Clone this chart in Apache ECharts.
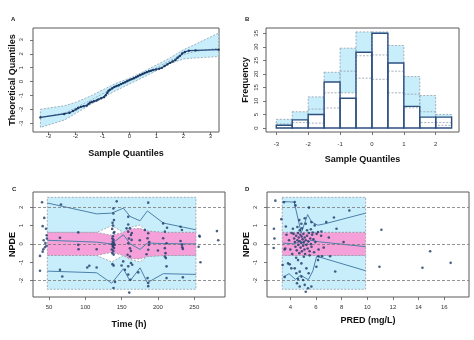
<!DOCTYPE html>
<html>
<head>
<meta charset="utf-8">
<script src="https://cdn.jsdelivr.net/npm/echarts@6/dist/echarts.min.js"></script>
<style>
html,body{margin:0;padding:0;background:#fff;}
#chart{width:474px;height:340px;}
</style>
</head>
<body>
<div id="chart"></div>
<script>
// ---------- Panel A: QQ plot of npde ----------
const qqSample = [-3.30,-2.42,-2.22,-2.09,-1.98,-1.90,-1.80,-1.70,-1.59,-1.52,-1.47,-1.40,-1.32,-1.22,-1.15,-1.05,-0.95,-0.88,-0.82,-0.78,-0.72,-0.64,-0.56,-0.48,-0.40,-0.32,-0.24,-0.16,-0.08,0.00,0.08,0.16,0.24,0.32,0.40,0.48,0.56,0.64,0.72,0.80,0.88,0.98,1.10,1.20,1.30,1.40,1.50,1.60,1.70,1.78,1.86,1.95,2.05,2.20,2.45,3.30];
const qqTheo   = [-2.58,-2.33,-2.24,-2.12,-2.00,-1.90,-1.82,-1.77,-1.73,-1.62,-1.52,-1.47,-1.42,-1.36,-1.28,-1.20,-1.12,-0.98,-0.80,-0.66,-0.58,-0.48,-0.38,-0.32,-0.26,-0.18,-0.11,-0.04,0.04,0.12,0.18,0.24,0.32,0.40,0.48,0.55,0.62,0.68,0.74,0.79,0.84,0.88,0.93,0.99,1.12,1.24,1.35,1.45,1.55,1.72,1.84,2.02,2.13,2.23,2.25,2.30];
const qqBandX   = [-3.3,-2.4,-2.0,-1.4,-1.0,-0.5,0,0.5,1.0,1.5,2.0,2.4,3.3];
const qqBandUp  = [-2.00,-1.73,-1.50,-1.00,-0.60,-0.12,0.24,0.70,1.20,1.70,2.30,2.65,3.50];
const qqBandMed = [-2.60,-2.25,-1.90,-1.30,-0.88,-0.40,0.03,0.50,1.00,1.50,1.95,2.15,2.42];
const qqBandLow = [-3.30,-2.76,-2.30,-1.60,-1.15,-0.65,-0.17,0.30,0.79,1.30,1.63,1.70,1.80];
const qqXTicks = [-3,-2,-1,0,1,2,3];
const qqYTicks = [-3,-2,-1,0,1,2,3];

// ---------- Panel B: histogram of npde ----------
const histLeft  = [-3,-2.5,-2,-1.5,-1,-0.5,0,0.5,1,1.5,2];
const histWidth = 0.5;
const histObs   = [1,3,5,17,11,28,35,24,8,4,4];
const histPiLow = [0,0,1.8,7.4,13,18.4,18,13,7.5,2,1];
const histPiMed = [1.5,2,7,13,21,26.7,27,21,12.5,6,2];
const histPiUp  = [3.2,6,11.5,20.6,29.5,35.5,35.5,30.5,19,12,5];
const histXTicks = [-3,-2,-1,0,1,2];
const histYTicks = [0,5,10,15,20,25,30,35];

// ---------- Panel C: npde vs time ----------
const timeBandX      = [47.7,115.6,136.3,152.4,161.5,175.3,185.4,207.4,252.3];
const timeBandTop    = [2.54,2.54,2.54,2.54,2.54,2.54,2.54,2.54,2.54];
const timeUpperInner = [0.63,0.63,1.00,0.63,0.90,1.03,0.70,0.63,0.63];
const timePinkUp     = [0.63,0.63,0.48,0.63,0.82,0.85,0.70,0.63,0.63];
const timePinkLow    = [-0.63,-0.63,-0.45,-0.63,-0.80,-0.82,-0.68,-0.63,-0.63];
const timeLowerInner = [-0.63,-0.63,-0.98,-0.63,-0.85,-0.98,-0.68,-0.63,-0.63];
const timeBandBottom = [-2.47,-2.47,-2.47,-2.47,-2.47,-2.47,-2.47,-2.47,-2.47];
const timeObsUp  = [2.23,1.64,1.68,1.95,1.50,1.26,1.80,1.14,0.77];
const timeObsMed = [0.20,0.10,0.00,0.50,0.02,-0.30,0.05,0.02,0.00];
const timeObsLow = [-1.48,-1.57,-2.14,-1.35,-2.02,-1.30,-2.11,-1.62,-1.66];
const timePts = [40.4,43.5,41.3,45.9,46.8,42.7,47.1,42.2,44.5,41.3,37.6,37.6,46.5,45.0,66.5,65.1,68.3,65.1,90.3,90.3,90.7,102.7,105.5,115.6,115.6,
  137.5,138.2,137.0,139.0,138.0,137.2,138.8,137.6,139.2,136.8,138.4,137.8,139.5,136.5,138.6,137.2,139.0,138.6,138.6,139.4,137.4,139.0,140.9,138.8,143.2,140.0,140.5,
  149.9,152.2,154.6,156.8,159.1,159.1,161.4,159.1,162.8,163.7,159.1,161.4,162.8,158.2,161.4,162.8,164.6,159.1,159.1,160.5,162.0,164.0,160.0,172.9,175.0,
  186.6,182.0,186.6,185.7,187.5,186.6,184.3,186.6,185.7,186.6,188.0,200.0,207.2,209.5,207.2,211.8,209.5,210.4,209.5,210.9,211.8,211.8,212.5,
  231.1,233.0,231.1,233.0,233.4,234.3,234.3,256.9,257.5,256.0,258.5,281.2,283.0];
const timeNpde = [2.27,1.42,0.97,0.83,0.47,0.20,0.30,-0.29,-0.18,-0.42,-0.65,-1.46,-0.10,0.05,2.15,-1.41,-1.77,0.34,0.63,-0.05,-0.29,-1.28,-1.19,-0.29,-1.28,
  1.15,1.00,0.82,0.60,0.42,0.30,0.22,0.12,0.05,-0.02,-0.08,-0.15,-0.22,-0.30,-0.38,-0.50,-0.58,1.93,1.66,1.30,-1.10,-1.18,-2.07,-2.40,2.32,0.65,-0.05,
  -1.17,-0.95,-1.41,0.85,1.48,1.06,0.85,0.67,0.49,0.22,0.04,-0.24,-0.38,-0.59,-0.68,-1.04,-1.13,-1.22,-1.67,-2.65,-1.95,0.60,0.30,-1.55,0.20,
  2.25,0.76,0.58,0.31,-0.05,-0.32,-0.56,-2.13,-1.86,-2.30,0.10,-0.36,1.12,0.67,0.31,0.04,-0.23,-0.50,-0.68,-0.77,-1.22,-1.86,0.88,
  0.94,0.76,0.16,-0.05,-0.18,-0.27,-1.82,0.45,0.40,-0.15,-1.00,0.70,0.20];
const timeXTicks = [50,100,150,200,250];
const npdeTicks = [-2,-1,0,1,2];
const npdeRefLines = [-2,0,2];

// ---------- Panel D: npde vs population prediction ----------
const predBandX      = [3.37,9.87];
const predBandTop    = [2.54,2.54];
const predUpperInner = [0.63,0.63];
const predPinkUp     = [0.63,0.63];
const predPinkLow    = [-0.63,-0.63];
const predLowerInner = [-0.63,-0.63];
const predBandBottom = [-2.47,-2.47];
const predUpX  = [3.40,4.30,4.85,5.35,5.65,6.15,6.70,9.87];
const predUpY  = [2.31,2.28,0.60,1.60,1.20,1.02,1.10,1.68];
const predMedX = [3.40,4.30,4.80,5.20,5.60,6.20,9.87];
const predMedY = [0.05,0.00,0.15,-0.05,0.20,0.12,-0.15];
const predLowX = [3.45,3.90,4.40,4.80,5.40,5.75,6.05,6.50,9.87];
const predLowY = [-1.80,-1.62,-1.93,-1.70,-1.95,-1.48,-0.68,-0.76,-1.46];
const predPts = [2.83,2.72,2.76,2.70,3.30,3.40,3.50,4.34,4.40,5.45,4.86,5.12,4.55,4.20,4.73,5.64,5.90,6.16,6.42,6.80,7.40,7.60,8.60,
  3.56,3.82,3.95,4.08,4.34,4.47,4.73,4.60,4.86,4.52,4.73,4.99,5.12,5.43,5.25,4.86,4.60,5.38,5.20,5.64,6.03,6.16,7.50,7.10,6.20,6.47,8.15,
  11.10,10.95,14.30,14.90,16.50,
  4.25,4.30,4.35,4.40,4.45,4.50,4.55,4.60,4.62,4.65,4.70,4.72,4.78,4.80,4.85,4.88,4.90,4.95,5.00,5.02,5.05,5.10,5.12,5.15,5.20,5.25,5.30,5.35,5.40,5.45,
  5.50,5.55,5.60,5.65,5.70,5.80,5.85,5.95,6.05,6.20,6.40,6.60,7.00,3.90,4.00,4.10,3.60,3.70,
  4.15,4.45,4.90,5.30,5.75,5.05,5.50,4.70,5.20,5.60,3.65,3.55];
const predNpde = [2.36,0.83,0.30,-0.22,1.35,-1.15,2.27,2.28,2.10,1.98,1.10,1.40,0.92,0.83,0.74,1.19,1.01,0.65,0.68,1.19,1.44,0.83,1.82,
  -1.80,-1.06,-1.11,-1.33,-1.33,-1.60,-1.51,-1.91,-1.78,-2.14,-2.32,-1.96,-2.23,-1.60,-1.33,-1.06,-0.88,-2.41,-2.60,-2.32,-1.24,-0.88,-1.50,-0.67,-0.67,-0.67,0.10,
  0.77,-1.24,-1.30,-0.40,-1.03,
  0.55,0.30,0.10,-0.15,0.45,-0.35,0.20,0.60,-0.05,0.35,-0.50,0.15,0.50,-0.20,0.05,0.40,-0.40,0.25,-0.10,0.55,0.10,-0.30,0.35,-0.55,0.20,-0.05,0.45,-0.25,0.15,0.60,
  -0.40,0.30,0.00,-0.15,0.50,0.25,-0.45,0.10,0.55,-0.30,0.45,-0.20,0.35,0.20,-0.30,0.60,-0.25,0.50,
  -0.55,-0.75,0.85,0.75,0.62,-0.70,-0.62,1.30,1.10,0.80,0.95,-0.30];
const predXTicks = [4,6,8,10,12,14,16];

// ---------- styling ----------
const FONT = 'Liberation Sans, Arial, sans-serif';
const BLUE = '#c9eefb';
const PINK = '#f6a0da';
const EDGE = '#8f9dab';
const OBS_LINE = '#4c80ab';
const DOT = '#1c3a66';

const pairs = (xs, ys) => xs.map((x, i) => [x, ys[i]]);

function valueAxis(gridIndex, min, max, ticks, labelMargin, extra) {
  return Object.assign({
    type: 'value', gridIndex, min, max,
    axisLine: {show: false, onZero: false},
    axisTick: {show: true, customValues: ticks, length: 3, lineStyle: {color: '#555', width: 0.8}},
    axisLabel: {show: true, customValues: ticks, fontSize: 6, color: '#333', margin: labelMargin, fontFamily: FONT},
    splitLine: {show: false},
    nameLocation: 'middle',
    nameTextStyle: {fontSize: 9, fontWeight: 'bold', color: '#111', fontFamily: FONT}
  }, extra);
}
function yAxisOf(gridIndex, min, max, ticks, labelMargin, name, gap) {
  const ax = valueAxis(gridIndex, min, max, ticks, labelMargin, {name, nameGap: gap});
  ax.axisLabel.rotate = 90;
  return ax;
}

// filled band between two edges, with a dashed outline
function band(ax, xs, lows, highs, fill) {
  return {
    type: 'custom', xAxisIndex: ax, yAxisIndex: ax, silent: true, z: 1,
    data: [[xs[0], lows[0]]],
    renderItem: (params, api) => {
      const top = xs.map((x, i) => api.coord([x, highs[i]]));
      const bot = xs.map((x, i) => api.coord([x, lows[i]])).reverse();
      return {type: 'polygon', shape: {points: top.concat(bot)},
        style: {fill, stroke: EDGE, lineWidth: 0.8, lineDash: [2, 1.5]}};
    }
  };
}
function polyline(ax, data, color, width, dashed, z) {
  return {
    type: 'line', xAxisIndex: ax, yAxisIndex: ax, data, symbol: 'none', silent: true, z: z || 3,
    lineStyle: {color, width, type: dashed ? [2, 1.5] : 'solid'}
  };
}
function refLines(ax) {
  return {
    type: 'line', xAxisIndex: ax, yAxisIndex: ax, data: [], silent: true, z: 2,
    markLine: {symbol: ['none', 'none'], silent: true, label: {show: false},
      lineStyle: {color: '#777', width: 0.8, type: [3, 2]},
      data: npdeRefLines.map(v => ({yAxis: v}))}
  };
}
function dots(ax, data) {
  return {
    type: 'scatter', xAxisIndex: ax, yAxisIndex: ax, data, symbolSize: 2.6, silent: true, z: 5,
    itemStyle: {color: DOT}
  };
}

// histogram: prediction bands, observed bars, dashed band limits on top
const histSeries = {
  type: 'custom', xAxisIndex: 1, yAxisIndex: 1, silent: true, z: 2,
  data: [[histLeft[0], 0]],
  renderItem: (params, api) => {
    const children = [];
    const rectOf = (x0, y0, x1, y1) => {
      const a = api.coord([x0, y1]), b = api.coord([x1, y0]);
      return {x: a[0], y: a[1], width: b[0] - a[0], height: b[1] - a[1]};
    };
    histLeft.forEach((x, i) => {
      children.push({type: 'rect', shape: rectOf(x, histPiLow[i], x + histWidth, histPiUp[i]),
        style: {fill: BLUE, stroke: null}});
    });
    histLeft.forEach((x, i) => {
      children.push({type: 'rect', shape: rectOf(x, 0, x + histWidth, histObs[i]),
        style: {fill: '#fff', stroke: null}});
    });
    histLeft.forEach((x, i) => {
      children.push({type: 'rect', shape: rectOf(x, histPiLow[i], x + histWidth, histPiUp[i]),
        style: {fill: null, stroke: EDGE, lineWidth: 0.8, lineDash: [2, 1.5]}});
      const m0 = api.coord([x, histPiMed[i]]), m1 = api.coord([x + histWidth, histPiMed[i]]);
      children.push({type: 'line', shape: {x1: m0[0], y1: m0[1], x2: m1[0], y2: m1[1]},
        style: {stroke: EDGE, lineWidth: 0.8, lineDash: [2, 1.5]}});
    });
    histLeft.forEach((x, i) => {
      children.push({type: 'rect', shape: rectOf(x, 0, x + histWidth, histObs[i]),
        style: {fill: null, stroke: '#2d5080', lineWidth: 1.4}});
    });
    return {type: 'group', children};
  }
};

const chart = echarts.init(document.getElementById('chart'), null, {renderer: 'canvas'});
const gridStyle = {show: true, borderColor: '#5a5a5a', borderWidth: 1, backgroundColor: 'transparent', containLabel: false};

chart.setOption({
  animation: false,
  backgroundColor: '#fff',
  title: ['A', 'B', 'C', 'D'].map((t, i) => ({
    text: t, padding: 0, left: [11, 245, 12, 245][i], top: [16, 16, 186, 186][i],
    textStyle: {fontSize: 6, fontWeight: 'bold', color: '#222', fontFamily: FONT}
  })),
  grid: [
    Object.assign({left: 33, top: 28, width: 186, height: 104}, gridStyle),
    Object.assign({left: 266, top: 28, width: 193, height: 104}, gridStyle),
    Object.assign({left: 33, top: 192, width: 192, height: 105}, gridStyle),
    Object.assign({left: 267, top: 192, width: 202, height: 105}, gridStyle)
  ],
  xAxis: [
    valueAxis(0, -3.575, 3.315, qqXTicks, 1.5, {name: 'Sample Quantiles', nameGap: 17}),
    valueAxis(1, -3.323, 2.731, histXTicks, 9, {name: 'Sample Quantiles', nameGap: 23}),
    valueAxis(2, 27.98, 292.3, timeXTicks, 7.5, {name: 'Time (h)', nameGap: 23}),
    valueAxis(3, 2.18, 17.93, predXTicks, 7.5, {name: 'PRED (mg/L)', nameGap: 19})
  ],
  yAxis: [
    yAxisOf(0, -3.63, 3.86, qqYTicks, 9, 'Theoretical Quantiles', 14),
    yAxisOf(1, -1.48, 36.96, histYTicks, 7, 'Frequency', 16),
    yAxisOf(2, -2.89, 2.83, npdeTicks, 9, 'NPDE', 14),
    yAxisOf(3, -2.89, 2.83, npdeTicks, 9, 'NPDE', 13)
  ],
  series: [
    // A
    band(0, qqBandX, qqBandLow, qqBandUp, BLUE),
    polyline(0, pairs(qqBandX, qqBandMed), EDGE, 0.8, true, 2),
    {
      type: 'line', xAxisIndex: 0, yAxisIndex: 0, data: pairs(qqSample, qqTheo), silent: true, z: 4,
      symbol: 'circle', symbolSize: 2.4, showSymbol: true,
      lineStyle: {color: '#23497a', width: 1.2}, itemStyle: {color: '#1c3a66'}
    },
    // B
    histSeries,
    // C
    band(2, timeBandX, timeUpperInner, timeBandTop, BLUE),
    band(2, timeBandX, timeBandBottom, timeLowerInner, BLUE),
    band(2, timeBandX, timePinkLow, timePinkUp, PINK),
    refLines(2),
    polyline(2, pairs(timeBandX, timeObsUp), OBS_LINE, 1),
    polyline(2, pairs(timeBandX, timeObsMed), OBS_LINE, 1),
    polyline(2, pairs(timeBandX, timeObsLow), OBS_LINE, 1),
    dots(2, pairs(timePts, timeNpde)),
    // D
    band(3, predBandX, predUpperInner, predBandTop, BLUE),
    band(3, predBandX, predBandBottom, predLowerInner, BLUE),
    band(3, predBandX, predPinkLow, predPinkUp, PINK),
    refLines(3),
    polyline(3, pairs(predUpX, predUpY), OBS_LINE, 1),
    polyline(3, pairs(predMedX, predMedY), OBS_LINE, 1),
    polyline(3, pairs(predLowX, predLowY), OBS_LINE, 1),
    dots(3, pairs(predPts, predNpde))
  ]
});
</script>
</body>
</html>
